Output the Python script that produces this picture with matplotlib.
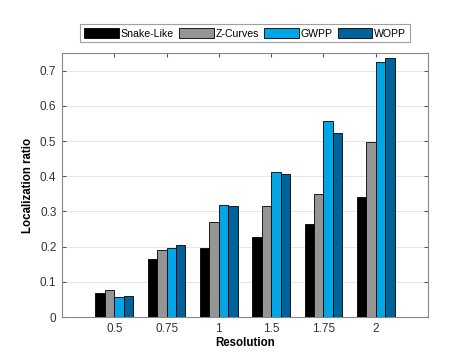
import matplotlib.pyplot as plt
import numpy as np

plt.rcParams['font.family'] = ['Liberation Sans', 'DejaVu Sans']

resolution = ['0.5', '0.75', '1', '1.5', '1.75', '2']
snake_like = [0.068, 0.165, 0.195, 0.227, 0.265, 0.340]
z_curves = [0.078, 0.190, 0.270, 0.315, 0.350, 0.498]
gwpp = [0.057, 0.195, 0.318, 0.413, 0.557, 0.725]
wopp = [0.059, 0.205, 0.315, 0.405, 0.522, 0.735]

series = [('Snake-Like', snake_like, '#000000'),
          ('Z-Curves', z_curves, '#959595'),
          ('GWPP', gwpp, '#00a6e6'),
          ('WOPP', wopp, '#00629b')]

fig = plt.figure(figsize=(4.74, 3.53), dpi=100)
ax = fig.add_axes([62 / 474, 1 - 317 / 353, 366 / 474, 264 / 353])

x = np.arange(1, len(resolution) + 1)
w = 0.18
for i, (name, vals, col) in enumerate(series):
    ax.bar(x + (i - 1.5) * w, vals, w, color=col, edgecolor='black',
           linewidth=0.6, label=name, zorder=3)

ax.set_xlim(0, 7)
ax.set_ylim(0, 0.75)
ax.set_xticks(x)
ax.set_xticklabels(resolution)
ax.set_yticks(np.arange(0, 0.71, 0.1))
ax.set_yticklabels(['0', '0.1', '0.2', '0.3', '0.4', '0.5', '0.6', '0.7'])
ax.yaxis.grid(True, color='#e6e6e6', linewidth=0.7, zorder=0)
ax.set_axisbelow(True)
ax.tick_params(direction='in', top=True, right=True, length=3,
               color='#555555', labelcolor='#333333', labelsize=8.5, pad=4)
for s in ax.spines.values():
    s.set_color('#888888')
    s.set_linewidth(0.8)

ax.set_xlabel('Resolution', fontweight='bold', fontsize=8.3, labelpad=2)
ax.set_ylabel('Localization ratio', fontweight='bold', fontsize=8.3, labelpad=4)

leg = ax.legend(loc='lower center', bbox_to_anchor=(0.5, 1.04), ncol=4,
                fontsize=7.6, frameon=True, fancybox=False, handlelength=3.3,
                handleheight=1.1, handletextpad=0.15, columnspacing=0.5,
                borderpad=0.35, borderaxespad=0)
leg.get_frame().set_edgecolor('#888888')
leg.get_frame().set_linewidth(0.8)

fig.savefig('out.png', dpi=100)
